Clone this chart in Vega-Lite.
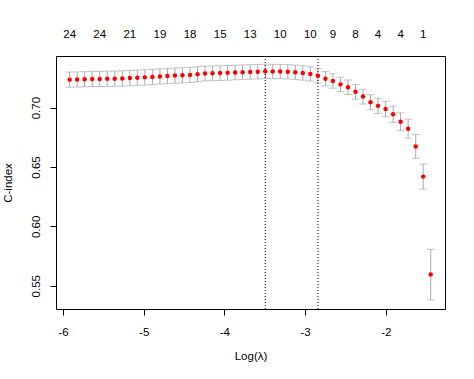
{
  "$schema": "https://vega.github.io/schema/vega-lite/v6.json",
  "width": 389,
  "height": 253,
  "autosize": {"type": "none"},
  "padding": {"left": 56, "top": 56, "right": 29, "bottom": 70},
  "background": "white",
  "config": {
    "view": {"stroke": "black", "strokeWidth": 1},
    "font": "Liberation Sans",
    "axis": {
      "grid": false,
      "domain": false,
      "tickColor": "black",
      "tickSize": 6,
      "labelFont": "Liberation Sans",
      "labelFontSize": 11.5,
      "labelColor": "black",
      "titleFont": "Liberation Sans",
      "titleFontSize": 11.5,
      "titleFontWeight": "normal",
      "titleColor": "black"
    }
  },
  "datasets": {
    "cv": [
      {"loglambda": -5.918, "cvm": 0.7236, "lo": 0.7172, "hi": 0.7300},
      {"loglambda": -5.825, "cvm": 0.7237, "lo": 0.7173, "hi": 0.7301},
      {"loglambda": -5.732, "cvm": 0.7240, "lo": 0.7176, "hi": 0.7304},
      {"loglambda": -5.638, "cvm": 0.7242, "lo": 0.7178, "hi": 0.7306},
      {"loglambda": -5.545, "cvm": 0.7242, "lo": 0.7178, "hi": 0.7306},
      {"loglambda": -5.452, "cvm": 0.7243, "lo": 0.7179, "hi": 0.7307},
      {"loglambda": -5.359, "cvm": 0.7244, "lo": 0.7180, "hi": 0.7308},
      {"loglambda": -5.265, "cvm": 0.7246, "lo": 0.7182, "hi": 0.7310},
      {"loglambda": -5.172, "cvm": 0.7249, "lo": 0.7185, "hi": 0.7313},
      {"loglambda": -5.079, "cvm": 0.7252, "lo": 0.7188, "hi": 0.7316},
      {"loglambda": -4.986, "cvm": 0.7255, "lo": 0.7191, "hi": 0.7319},
      {"loglambda": -4.892, "cvm": 0.7259, "lo": 0.7195, "hi": 0.7323},
      {"loglambda": -4.799, "cvm": 0.7263, "lo": 0.7199, "hi": 0.7327},
      {"loglambda": -4.706, "cvm": 0.7267, "lo": 0.7203, "hi": 0.7331},
      {"loglambda": -4.613, "cvm": 0.7270, "lo": 0.7206, "hi": 0.7334},
      {"loglambda": -4.520, "cvm": 0.7273, "lo": 0.7210, "hi": 0.7336},
      {"loglambda": -4.426, "cvm": 0.7276, "lo": 0.7213, "hi": 0.7339},
      {"loglambda": -4.333, "cvm": 0.7282, "lo": 0.7219, "hi": 0.7345},
      {"loglambda": -4.240, "cvm": 0.7287, "lo": 0.7225, "hi": 0.7349},
      {"loglambda": -4.147, "cvm": 0.7289, "lo": 0.7227, "hi": 0.7351},
      {"loglambda": -4.053, "cvm": 0.7291, "lo": 0.7229, "hi": 0.7353},
      {"loglambda": -3.960, "cvm": 0.7293, "lo": 0.7231, "hi": 0.7355},
      {"loglambda": -3.867, "cvm": 0.7296, "lo": 0.7235, "hi": 0.7357},
      {"loglambda": -3.774, "cvm": 0.7299, "lo": 0.7238, "hi": 0.7360},
      {"loglambda": -3.680, "cvm": 0.7301, "lo": 0.7240, "hi": 0.7362},
      {"loglambda": -3.587, "cvm": 0.7303, "lo": 0.7242, "hi": 0.7364},
      {"loglambda": -3.494, "cvm": 0.7306, "lo": 0.7246, "hi": 0.7366},
      {"loglambda": -3.401, "cvm": 0.7305, "lo": 0.7245, "hi": 0.7365},
      {"loglambda": -3.308, "cvm": 0.7304, "lo": 0.7244, "hi": 0.7364},
      {"loglambda": -3.214, "cvm": 0.7302, "lo": 0.7242, "hi": 0.7362},
      {"loglambda": -3.121, "cvm": 0.7298, "lo": 0.7238, "hi": 0.7358},
      {"loglambda": -3.028, "cvm": 0.7292, "lo": 0.7232, "hi": 0.7352},
      {"loglambda": -2.935, "cvm": 0.7284, "lo": 0.7224, "hi": 0.7344},
      {"loglambda": -2.841, "cvm": 0.7268, "lo": 0.7208, "hi": 0.7328},
      {"loglambda": -2.748, "cvm": 0.7244, "lo": 0.7184, "hi": 0.7304},
      {"loglambda": -2.655, "cvm": 0.7225, "lo": 0.7164, "hi": 0.7286},
      {"loglambda": -2.562, "cvm": 0.7196, "lo": 0.7135, "hi": 0.7257},
      {"loglambda": -2.468, "cvm": 0.7172, "lo": 0.7111, "hi": 0.7233},
      {"loglambda": -2.375, "cvm": 0.7133, "lo": 0.7071, "hi": 0.7195},
      {"loglambda": -2.282, "cvm": 0.7093, "lo": 0.7031, "hi": 0.7155},
      {"loglambda": -2.189, "cvm": 0.7046, "lo": 0.6983, "hi": 0.7109},
      {"loglambda": -2.096, "cvm": 0.7015, "lo": 0.6951, "hi": 0.7079},
      {"loglambda": -2.002, "cvm": 0.6989, "lo": 0.6924, "hi": 0.7054},
      {"loglambda": -1.909, "cvm": 0.6944, "lo": 0.6876, "hi": 0.7012},
      {"loglambda": -1.816, "cvm": 0.6881, "lo": 0.6806, "hi": 0.6956},
      {"loglambda": -1.723, "cvm": 0.6823, "lo": 0.6743, "hi": 0.6903},
      {"loglambda": -1.629, "cvm": 0.6673, "lo": 0.6573, "hi": 0.6773},
      {"loglambda": -1.536, "cvm": 0.6419, "lo": 0.6314, "hi": 0.6524},
      {"loglambda": -1.443, "cvm": 0.5594, "lo": 0.5381, "hi": 0.5807}
    ],
    "nzero": [
      {"loglambda": -5.918, "nz": "24"},
      {"loglambda": -5.545, "nz": "24"},
      {"loglambda": -5.172, "nz": "21"},
      {"loglambda": -4.799, "nz": "19"},
      {"loglambda": -4.426, "nz": "18"},
      {"loglambda": -4.053, "nz": "15"},
      {"loglambda": -3.680, "nz": "13"},
      {"loglambda": -3.308, "nz": "10"},
      {"loglambda": -2.935, "nz": "10"},
      {"loglambda": -2.655, "nz": "9"},
      {"loglambda": -2.375, "nz": "8"},
      {"loglambda": -2.096, "nz": "4"},
      {"loglambda": -1.816, "nz": "4"},
      {"loglambda": -1.536, "nz": "1"}
    ],
    "vlines": [
      {"loglambda": -3.494, "which": "lambda.min"},
      {"loglambda": -2.841, "which": "lambda.1se"}
    ]
  },
  "layer": [
    {
      "data": {"name": "cv"},
      "mark": {"type": "rule", "color": "#a9a9a9", "strokeWidth": 1},
      "encoding": {
        "x": {
          "field": "loglambda", "type": "quantitative",
          "scale": {"domain": [-6.087, -1.266], "nice": false, "zero": false},
          "axis": {
            "values": [-6, -5, -4, -3, -2],
            "labelExpr": "'' + datum.value",
            "labelPadding": 11,
            "title": "Log(λ)",
            "titlePadding": 13
          }
        },
        "y": {
          "field": "lo", "type": "quantitative",
          "scale": {"domain": [0.5304, 0.7435], "nice": false, "zero": false},
          "axis": {
            "values": [0.55, 0.6, 0.65, 0.7],
            "format": ".2f",
            "labelAngle": -90,
            "labelAlign": "center",
            "labelBaseline": "bottom",
            "labelPadding": 9,
            "title": "C-index",
            "titlePadding": 17
          }
        },
        "y2": {"field": "hi"}
      }
    },
    {
      "data": {"name": "cv"},
      "mark": {"type": "tick", "orient": "horizontal", "color": "#a9a9a9", "size": 8, "thickness": 1},
      "encoding": {
        "x": {"field": "loglambda", "type": "quantitative"},
        "y": {"field": "lo", "type": "quantitative"}
      }
    },
    {
      "data": {"name": "cv"},
      "mark": {"type": "tick", "orient": "horizontal", "color": "#a9a9a9", "size": 8, "thickness": 1},
      "encoding": {
        "x": {"field": "loglambda", "type": "quantitative"},
        "y": {"field": "hi", "type": "quantitative"}
      }
    },
    {
      "data": {"name": "vlines"},
      "mark": {"type": "rule", "color": "black", "strokeWidth": 1, "strokeDash": [1, 2]},
      "encoding": {
        "x": {"field": "loglambda", "type": "quantitative"}
      }
    },
    {
      "data": {"name": "cv"},
      "mark": {"type": "circle", "color": "#ff0000", "opacity": 1, "size": 20},
      "encoding": {
        "x": {"field": "loglambda", "type": "quantitative"},
        "y": {"field": "cvm", "type": "quantitative"}
      }
    },
    {
      "data": {"name": "nzero"},
      "mark": {"type": "text", "font": "Liberation Sans", "fontSize": 11.5, "color": "black", "baseline": "middle", "align": "center", "clip": false},
      "encoding": {
        "x": {"field": "loglambda", "type": "quantitative"},
        "y": {"datum": 0.7609, "type": "quantitative"},
        "text": {"field": "nz"}
      }
    }
  ]
}
